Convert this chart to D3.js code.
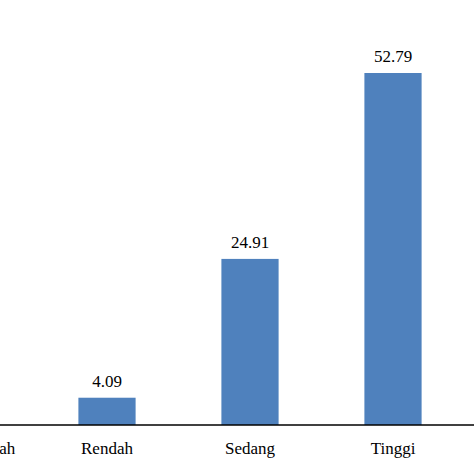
<!DOCTYPE html>
<html><head><meta charset="utf-8">
<script src="https://cdn.jsdelivr.net/npm/d3@7"></script>
<style>body{margin:0;background:#fff}</style>
</head><body>
<svg id="chart" width="474" height="474"></svg>
<script>
const categories = ['Sangat Rendah', 'Rendah', 'Sedang', 'Tinggi'];
const values = [0.0, 4.09, 24.91, 52.79];

const svg = d3.select('#chart');
const baseY = 425;
const x = d3.scaleBand().domain(categories).range([-107.5, 464.5]).paddingInner(0.6).paddingOuter(0.3);
const y = d3.scaleLinear().domain([0, 52.79]).range([baseY, 73]);

svg.selectAll('.bar').data(categories).join('rect')
  .attr('x', d => x(d)).attr('width', x.bandwidth())
  .attr('y', (d, i) => y(values[i])).attr('height', (d, i) => baseY - y(values[i]))
  .attr('fill', '#4f81bd');

// value labels (the first one lies off the visible area in the reference)
svg.selectAll('.val').data(categories.filter((d, i) => values[i] > 0)).join('text')
  .attr('x', d => x(d) + x.bandwidth() / 2)
  .attr('y', d => y(values[categories.indexOf(d)]) - 11)
  .attr('text-anchor', 'middle')
  .attr('font-family', 'Liberation Serif').attr('font-size', 17)
  .text(d => values[categories.indexOf(d)].toFixed(2));

svg.append('line').attr('x1', 0).attr('x2', 474).attr('y1', baseY).attr('y2', baseY)
  .attr('stroke', '#000').attr('stroke-width', 1.5);

svg.selectAll('.cat').data(categories).join('text')
  .attr('x', d => x(d) + x.bandwidth() / 2).attr('y', 454)
  .attr('text-anchor', 'middle')
  .attr('font-family', 'Liberation Serif').attr('font-size', 17)
  .text(d => d);
</script>
</body></html>
